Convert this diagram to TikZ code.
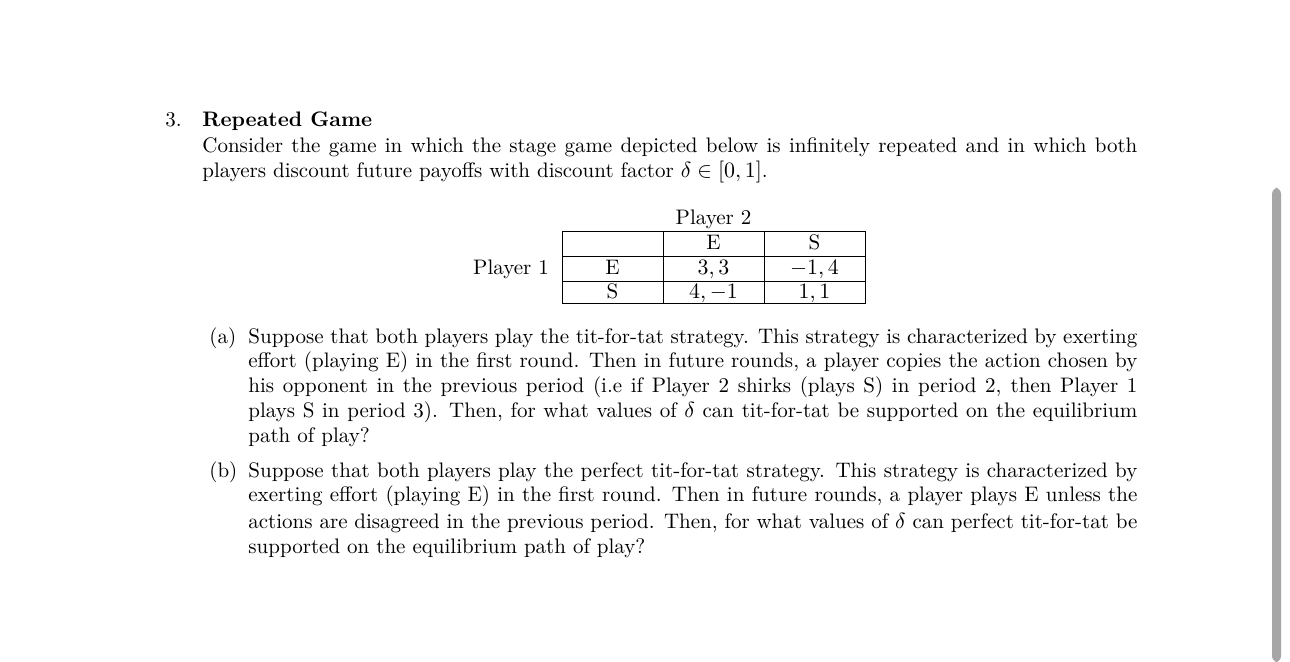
\documentclass[tikz,border=0pt]{standalone}
\begin{document}
\begin{tikzpicture}[x=0.5pt,y=-0.5pt,
  ln/.style={anchor=base west,inner sep=0pt,font=\fontsize{10.5}{12}\selectfont},
  cell/.style={anchor=base,inner sep=0pt,font=\fontsize{10.5}{12}\selectfont}]
\useasboundingbox[fill=white] (0,0) rectangle (1290,662);
\fill[gray!70,rounded corners=3] (1272,188) rectangle (1281,662);
\newcommand{\jl}[4]{\node[ln] (#1) at (#2,#3) {\makebox[#4*0.5pt][s]{\strut ##1}};}
\node[ln] (n3) at (165,127) {3.};
\node[ln] (t3) at (202,127) {\textbf{Repeated Game}};
\node[ln] (l1) at (202,153) {\makebox[467.5pt][s]{Consider the game in which the stage game depicted below is infinitely repeated and in which both}};
\node[ln] (l2) at (202,178) {players discount future payoffs with discount factor $\delta\in[0,1]$.};
% table
\node[cell] (p2) at (713.5,225) {Player 2};
\node[cell] (p1) at (511,275) {Player 1};
\draw (562,231) rectangle (865,303);
\foreach \y in {256,281} \draw (562,\y) -- (865,\y);
\foreach \x in {663,764} \draw (\x,231) -- (\x,303);
\node[cell] (hE) at (713.5,250) {E};
\node[cell] (hS) at (814.5,250) {S};
\node[cell] (rE) at (612.5,275) {E};
\node[cell] (rS) at (612.5,299) {S};
\node[cell] (c11) at (713.5,275) {$3,3$};
\node[cell] (c12) at (814.5,275) {$-1,4$};
\node[cell] (c21) at (713.5,299) {$4,-1$};
\node[cell] (c22) at (814.5,299) {$1,1$};
% (a)
\node[ln] (la) at (209,344) {(a)};
\node[ln] (a1) at (248,344) {\makebox[444.5pt][s]{Suppose that both players play the tit-for-tat strategy. This strategy is characterized by exerting}};
\node[ln] (a2) at (248,368) {\makebox[444.5pt][s]{effort (playing E) in the first round. Then in future rounds, a player copies the action chosen by}};
\node[ln] (a3) at (248,393) {\makebox[444.5pt][s]{his opponent in the previous period (i.e if Player 2 shirks (plays S) in period 2, then Player 1}};
\node[ln] (a4) at (248,418) {\makebox[444.5pt][s]{plays S in period 3). Then, for what values of $\delta$ can tit-for-tat be supported on the equilibrium}};
\node[ln] (a5) at (248,443) {path of play?};
% (b)
\node[ln] (lb) at (209,477) {(b)};
\node[ln] (b1) at (248,477) {\makebox[444.5pt][s]{Suppose that both players play the perfect tit-for-tat strategy. This strategy is characterized by}};
\node[ln] (b2) at (248,502) {\makebox[444.5pt][s]{exerting effort (playing E) in the first round. Then in future rounds, a player plays E unless the}};
\node[ln] (b3) at (248,528) {\makebox[444.5pt][s]{actions are disagreed in the previous period. Then, for what values of $\delta$ can perfect tit-for-tat be}};
\node[ln] (b4) at (248,553) {supported on the equilibrium path of play?};
\end{tikzpicture}
\end{document}
